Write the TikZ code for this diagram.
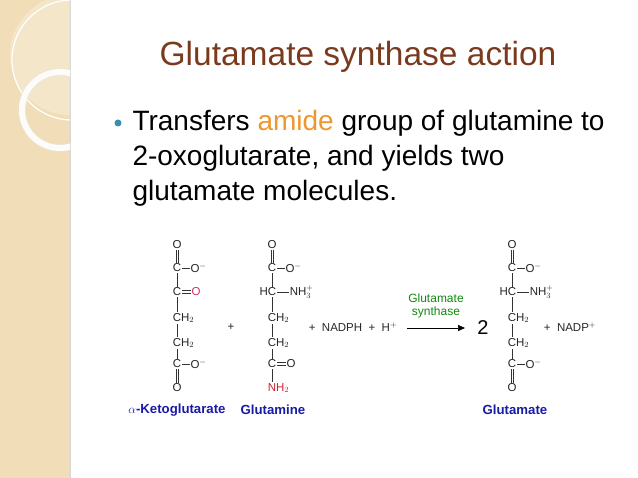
\documentclass[tikz,border=0pt]{standalone}
\usepackage{fontspec}
\setmainfont{Liberation Sans}
\usetikzlibrary{arrows.meta}
\definecolor{beige}{HTML}{F1DEB8}
\definecolor{titlec}{HTML}{7A3A1E}
\definecolor{amidec}{HTML}{F0962E}
\definecolor{bulletc}{HTML}{3A8FB0}
\definecolor{molblue}{HTML}{1A1AA8}
\definecolor{molgreen}{HTML}{108A10}
\definecolor{molred}{HTML}{D02030}
\definecolor{molpink}{HTML}{D0306A}
\begin{document}
\begin{tikzpicture}[x=1pt,y=-1pt,
  atom/.style={font=\fontsize{11.5}{11.5}\selectfont,inner sep=0.8pt,text=black!85},
  sb/.style={draw,line width=0.6pt,black!80},
  mname/.style={font=\bfseries\fontsize{13.2}{13.2}\selectfont,text=molblue},
  body/.style={font=\fontsize{28}{30}\selectfont,anchor=west}]
\newcommand\vdb[2]{\draw[sb] ([xshift=-1.2pt]#1.south)--([xshift=-1.2pt]#2.north);\draw[sb] ([xshift=1.2pt]#1.south)--([xshift=1.2pt]#2.north);}
\newcommand\vdbu[2]{\draw[sb] ([xshift=-1.2pt]#1.north)--([xshift=-1.2pt]#2.south);\draw[sb] ([xshift=1.2pt]#1.north)--([xshift=1.2pt]#2.south);}
\newcommand\hdb[2]{\draw[sb] ([yshift=-1.2pt]#1.east)--([yshift=-1.2pt]#2.west);\draw[sb] ([yshift=1.2pt]#1.east)--([yshift=1.2pt]#2.west);}
\useasboundingbox (0,0) rectangle (638,478);
\fill[white] (0,0) rectangle (638,478);
\fill[beige] (0,0) rectangle (70,478);
\fill[black!15] (69,0) rectangle (71,478);
\begin{scope}
\clip (0,0) rectangle (70,478);
\fill[white,opacity=0.25] (70,55) circle (60);
\draw[white,line width=1.2pt] (72,60) circle (60);
\draw[black!10,line width=7pt] (60,110) circle (38);
\draw[white!90!beige,line width=6pt] (60,110) circle (38);
\end{scope}
% title and bullet
\node[font=\fontsize{33.5}{33.5}\selectfont,text=titlec] (title) at (358,57) {Glutamate synthase action};
\fill[bulletc] (118,123) circle (3.5) coordinate (bul);
\node[body] (l1) at (129,123) {Transfers \textcolor{amidec}{amide} group of glutamine to};
\node[body] (l2) at (129,158) {2-oxoglutarate, and yields two};
\node[body] (l3) at (129,193) {glutamate molecules.};
% alpha-ketoglutarate
\node[atom] (k1) at (177,245) {O};
\node[atom] (k2) at (177,268) {C};
\node[atom] (k2o) at (195,268) {O\rlap{$^{-}$}};
\node[atom] (k3) at (177,292) {C};
\node[atom,text=molpink] (k3o) at (196,292) {O};
\node[atom] (k4) at (177,318) {C\rlap{H$_2$}};
\node[atom] (k5) at (177,343) {C\rlap{H$_2$}};
\node[atom] (k6) at (177,364) {C};
\node[atom] (k6o) at (195,364) {O\rlap{$^{-}$}};
\node[atom] (k7) at (177,388) {O};
\vdb{k1}{k2} \path[sb] (k2)--(k2o); \path[sb] (k2)--(k3);
\hdb{k3}{k3o} \path[sb] (k3)--(k4); \path[sb] (k4)--(k5);
\path[sb] (k5)--(k6); \path[sb] (k6)--(k6o); \vdbu{k7}{k6}
\node[mname] (kn) at (177,410) {$\alpha$-Ketoglutarate};
\node[atom] (p1) at (231,327) {+};
% glutamine
\node[atom] (g1) at (272,245) {O};
\node[atom] (g2) at (272,268) {C};
\node[atom] (g2o) at (290,268) {O\rlap{$^{-}$}};
\node[atom] (g3) at (272,292) {\llap{H}C};
\node[atom] (g3n) at (294,292) {N\rlap{H$_3^{+}$}};
\node[atom] (g4) at (272,318) {C\rlap{H$_2$}};
\node[atom] (g5) at (272,343) {C\rlap{H$_2$}};
\node[atom] (g6) at (272,364) {C};
\node[atom] (g6o) at (291,364) {O};
\node[atom,text=molred] (g7) at (272,388) {N\rlap{H$_2$}};
\vdb{g1}{g2} \path[sb] (g2)--(g2o); \path[sb] (g2)--(g3);
\path[sb] (g3)--(g3n); \path[sb] (g3)--(g4); \path[sb] (g4)--(g5);
\path[sb] (g5)--(g6); \hdb{g6}{g6o} \path[sb] (g6)--(g7);
\node[mname] (gn) at (273,410) {Glutamine};
\node[atom] (p2) at (353,327) {+\ \ NADPH\ \ +\ \ H$^{+}$};
% arrow
\coordinate (a1) at (407,328); \coordinate (a2) at (465,328);
\draw[line width=0.7pt,-{Triangle[length=7pt,width=6pt]}] (a1)--(a2);
\node[font=\fontsize{12}{13}\selectfont,text=molgreen,align=center] (enz) at (436,306) {Glutamate\\synthase};
\node[font=\fontsize{20}{20}\selectfont] (two) at (483,328) {2};
% glutamate
\node[atom] (e1) at (512,245) {O};
\node[atom] (e2) at (512,268) {C};
\node[atom] (e2o) at (530,268) {O\rlap{$^{-}$}};
\node[atom] (e3) at (512,292) {\llap{H}C};
\node[atom] (e3n) at (534,292) {N\rlap{H$_3^{+}$}};
\node[atom] (e4) at (512,318) {C\rlap{H$_2$}};
\node[atom] (e5) at (512,343) {C\rlap{H$_2$}};
\node[atom] (e6) at (512,364) {C};
\node[atom] (e6o) at (530,364) {O\rlap{$^{-}$}};
\node[atom] (e7) at (512,388) {O};
\vdb{e1}{e2} \path[sb] (e2)--(e2o); \path[sb] (e2)--(e3);
\path[sb] (e3)--(e3n); \path[sb] (e3)--(e4); \path[sb] (e4)--(e5);
\path[sb] (e5)--(e6); \path[sb] (e6)--(e6o); \vdbu{e7}{e6}
\node[mname] (en) at (515,410) {Glutamate};
\node[atom] (p3) at (570,327) {+\ \ NADP$^{+}$};
\end{tikzpicture}
\end{document}
